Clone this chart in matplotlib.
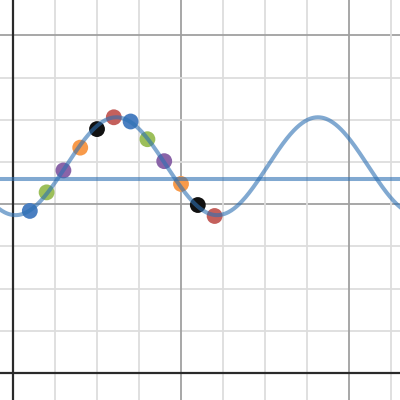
import numpy as np
import matplotlib
matplotlib.use("Agg")
import matplotlib.pyplot as plt

# points
pt_x = [0.2, 0.4, 0.6, 0.8, 1.0, 1.2, 1.4, 1.6, 1.8, 2.0, 2.2, 2.4]
pt_y = [1.92, 2.14, 2.40, 2.67, 2.89, 3.03, 2.98, 2.77, 2.51, 2.24, 1.99, 1.86]
pt_colors = ['#4a7fc1', '#9cbf5a', '#8a64a8', '#f89a4a', '#111111', '#c4605c'] * 2

# wave parameters
mid = 2.45
amp = 0.58
period = 2.4
peak_x = 1.23
hline_y = 2.3

line_col = '#2d70b3'

fig = plt.figure(figsize=(4, 4), dpi=100)
ax = fig.add_axes([0, 0, 1, 1])
ax.set_xlim(-0.155, 4.607)
ax.set_ylim(-0.321, 4.42)

# grid
for v in np.arange(0, 5, 0.5):
    major = abs(v % 2) < 1e-9
    c = '#a0a0a0' if major else '#dddddd'
    ax.axvline(v, color=c, lw=1.3, zorder=0)
    ax.axhline(v, color=c, lw=1.3, zorder=0)
ax.axvline(0, color='#2a2a2a', lw=1.6, zorder=1)
ax.axhline(0, color='#2a2a2a', lw=1.6, zorder=1)

ax.scatter(pt_x, pt_y, s=130, c=pt_colors, zorder=3, linewidths=0)

xs = np.linspace(-0.2, 4.7, 600)
ax.plot(xs, mid + amp * np.cos(2 * np.pi * (xs - peak_x) / period),
        color=line_col, alpha=0.6, lw=2.9, zorder=4, solid_capstyle='round')
ax.axhline(hline_y, color=line_col, alpha=0.6, lw=2.9, zorder=4)

ax.set_xticks([])
ax.set_yticks([])
for s in ax.spines.values():
    s.set_visible(False)

plt.savefig("out.png", dpi=100)
